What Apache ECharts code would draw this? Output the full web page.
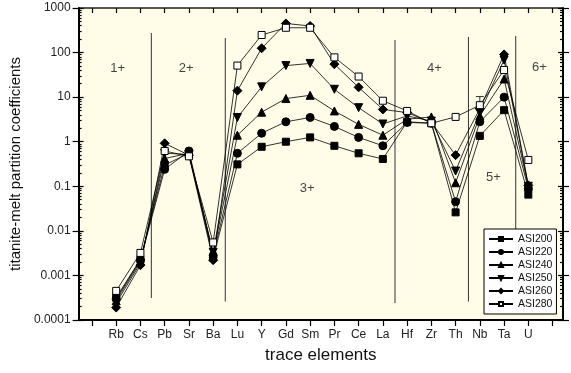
<!DOCTYPE html>
<html><head><meta charset="utf-8">
<script src="https://cdn.jsdelivr.net/npm/echarts@6/dist/echarts.min.js"></script>
<style>html,body{margin:0;padding:0;background:#fff}#c{width:571px;height:373px}</style>
</head><body><div id="c"></div>
<script>
// ---- data ----
const elements = ['Rb','Cs','Pb','Sr','Ba','Lu','Y','Gd','Sm','Pr','Ce','La','Hf','Zr','Th','Nb','Ta','U'];
const ASI200 = [0.00032, 0.0023, 0.30, 0.55, 0.0025, 0.31, 0.77, 1.0, 1.25, 0.81, 0.55, 0.41, 2.8, 2.6, 0.026, 1.35, 5.1, 0.065];
const ASI220 = [0.00030, 0.0022, 0.24, 0.62, 0.0028, 0.55, 1.55, 2.8, 3.5, 2.2, 1.25, 0.81, 2.7, 2.6, 0.045, 2.8, 10, 0.09];
const ASI240 = [0.00027, 0.0021, 0.42, 0.55, 0.0031, 1.4, 4.6, 9.3, 11, 4.9, 2.45, 1.4, 3.2, 3.6, 0.12, 3.8, 25.5, 0.10];
const ASI250 = [0.00024, 0.0019, 0.55, 0.52, 0.0033, 3.5, 17, 51, 57, 15, 5.8, 2.5, 3.8, 2.9, 0.22, 4.5, 68, 0.10];
const ASI260 = [0.00019, 0.0017, 0.92, 0.50, 0.0022, 14, 125, 450, 395, 55, 16.6, 5.3, 4.5, 2.7, 0.5, 5.5, 91, 0.105];
const ASI280 = [0.00045, 0.0032, 0.62, 0.47, 0.0055, 51, 248, 360, 360, 78, 29, 8.3, 4.9, 2.6, 3.6, 6.6, 40.6, 0.39];
const seriesNames = ['ASI200','ASI220','ASI240','ASI250','ASI260','ASI280'];
// Nb error bar on ASI280: [x, value, upper]
const errorBars = [[16, 6.6, 10.3]];
// valence-group dividers: [x, top, bottom]
const dividers = [[2.45, 275, 0.00031],[5.5, 212, 0.00026],[12.5, 191, 0.00024],[15.53, 224, 0.00026],[17.48, 236, 0.0003]];
// region labels: [x, y, text]
const regionLabels = [[1.06, 43, '1+'],[3.89, 43, '2+'],[8.88, 0.091, '3+'],[14.13, 45, '4+'],[16.56, 0.16, '5+'],[18.46, 46, '6+']];
// tick positions
const xTickPos = [0,1,2,3,4,5,6,7,8,9,10,11,12,13,14,15,16,17,18,19];
const xLabelPos = [1,2,3,4,5,6,7,8,9,10,11,12,13,14,15,16,17,18];
const yMajorExp = [-4,-3,-2,-1,0,1,2,3];
const yMinorExp = [];
for (let n = -4; n < 3; n++) for (let k = 2; k <= 9; k++) yMinorExp.push(n + Math.log10(k));

// ---- styles ----
const FONT = 'Arial, "Liberation Sans", sans-serif';
const styles = [
  {symbol:'rect', size:7, fill:'#000'},
  {symbol:'circle', size:8, fill:'#000'},
  {symbol:'triangle', size:8, fill:'#000'},
  {symbol:'path://M0,0 L10,0 L5,9 Z', size:8, fill:'#000'},
  {symbol:'diamond', size:9, fill:'#000'},
  {symbol:'rect', size:7, fill:'#fff'}
];
const allData = [ASI200, ASI220, ASI240, ASI250, ASI260, ASI280];

const XMIN = -0.55, XMAX = 19.43;
const helperY = (pos, inside, len, vals, line) => ({
  type:'value', min:-4, max:3, position:pos, gridIndex:0,
  axisLine:{show:!!line, onZero:false, lineStyle:{color:'#000', width:2}},
  axisTick:{show:true, inside:inside, length:len, customValues:vals, lineStyle:{color:'#000', width:1.2}},
  axisLabel:{show:false}, splitLine:{show:false}
});

const series = [];
series.push({
  type:'custom', xAxisIndex:0, yAxisIndex:0, data: dividers, z:1, silent:true,
  renderItem:(params, api) => {
    const p1 = api.coord([api.value(0), api.value(1)]);
    const p2 = api.coord([api.value(0), api.value(2)]);
    return {type:'line', shape:{x1:p1[0], y1:p1[1], x2:p2[0], y2:p2[1]}, style:{stroke:'#333', lineWidth:1}};
  }
});
series.push({
  type:'scatter', xAxisIndex:0, yAxisIndex:0, symbolSize:1, silent:true,
  itemStyle:{color:'rgba(0,0,0,0)'},
  data: regionLabels,
  label:{show:true, position:'inside', formatter:p => p.data[2], color:'#111', fontSize:13, fontFamily:FONT}
});
allData.forEach((vals, s) => {
  const st = styles[s];
  series.push({
    type:'line', name:seriesNames[s], xAxisIndex:0, yAxisIndex:0,
    data: vals.map((v, i) => [i + 1, v]),
    symbol: st.symbol, symbolSize: st.size, showSymbol:true,
    itemStyle:{color:st.fill, borderColor:'#000', borderWidth:1},
    lineStyle:{color:'#000', width:0.8},
    z: 3 + s
  });
});
series.push({
  type:'custom', xAxisIndex:0, yAxisIndex:0, data: errorBars, z:2, silent:true,
  renderItem:(params, api) => {
    const p1 = api.coord([api.value(0), api.value(1)]);
    const p2 = api.coord([api.value(0), api.value(2)]);
    return {type:'group', children:[
      {type:'line', shape:{x1:p1[0], y1:p1[1], x2:p2[0], y2:p2[1]}, style:{stroke:'#000', lineWidth:0.8}},
      {type:'line', shape:{x1:p2[0]-4, y1:p2[1], x2:p2[0]+4, y2:p2[1]}, style:{stroke:'#000', lineWidth:0.8}}
    ]};
  }
});

const option = {
  animation:false,
  backgroundColor:'#fff',
  textStyle:{fontFamily:FONT},
  grid:{left:68, right:8, top:8, bottom:53, show:true, backgroundColor:'#fffde8', borderWidth:0},
  legend:{
    data: seriesNames, orient:'vertical', left:484, top:229,
    backgroundColor:'#fff', borderColor:'#000', borderWidth:1, padding:[4,4,4,4],
    itemGap:1, itemWidth:24, itemHeight:5,
    textStyle:{fontSize:10.5, color:'#111', fontFamily:FONT, lineHeight:12}
  },
  xAxis:[
    {type:'value', min:XMIN, max:XMAX, position:'bottom',
     name:'trace elements', nameLocation:'middle', nameGap:27,
     nameTextStyle:{fontSize:17, color:'#111', fontFamily:FONT},
     axisLine:{onZero:false, lineStyle:{color:'#000', width:2}},
     axisTick:{inside:false, length:6, customValues:xTickPos, lineStyle:{color:'#000', width:1.2}},
     axisLabel:{customValues:xLabelPos, formatter:v => elements[Math.round(v) - 1] || '', fontSize:12, color:'#222', margin:9, fontFamily:FONT},
     splitLine:{show:false}},
    {type:'value', min:XMIN, max:XMAX, position:'top',
     axisLine:{onZero:false, lineStyle:{color:'#222', width:1.5}},
     axisTick:{inside:true, length:5, customValues:xTickPos, lineStyle:{color:'#000', width:1.2}},
     axisLabel:{show:false}, splitLine:{show:false}}
  ],
  yAxis:[
    {type:'log', logBase:10, min:0.0001, max:1000, interval:1, position:'left',
     name:'titanite-melt partition coefficients', nameLocation:'middle', nameGap:50,
     nameTextStyle:{fontSize:15, color:'#111', fontFamily:FONT},
     axisLine:{onZero:false, lineStyle:{color:'#000', width:2}},
     axisTick:{inside:false, length:6, lineStyle:{color:'#000', width:1.2}},
     axisLabel:{fontSize:12, color:'#222', margin:8, fontFamily:FONT,
       formatter:v => { const e = Math.round(Math.log10(v)); return e >= 0 ? String(Math.pow(10, e)) : Math.pow(10, e).toFixed(-e); }},
     splitLine:{show:false}},
    helperY('left', true, 5, yMajorExp, false),
    helperY('left', true, 3, yMinorExp, false),
    helperY('right', false, 6, yMajorExp, true),
    helperY('right', true, 5, yMajorExp, false),
    helperY('right', true, 3, yMinorExp, false)
  ],
  series: series
};
const chart = echarts.init(document.getElementById('c'));
chart.setOption(option);
</script>
</body></html>
